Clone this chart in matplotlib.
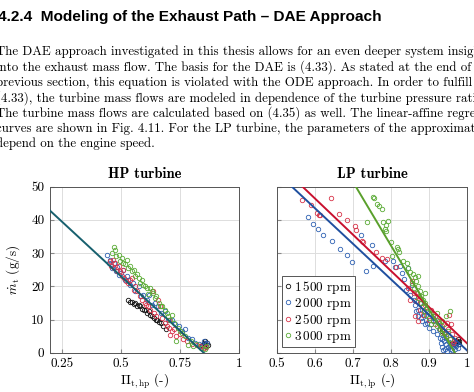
import matplotlib
matplotlib.use("Agg")
import matplotlib.pyplot as plt
import numpy as np

plt.rcParams['font.family'] = 'cmr10'
plt.rcParams['mathtext.fontset'] = 'cm'
plt.rcParams['axes.formatter.use_mathtext'] = True

# page text
heading = "4.2.4  Modeling of the Exhaust Path \u2013 DAE Approach"
body_lines = [
    "The DAE approach investigated in this thesis allows for an even deeper system insight",
    "into the exhaust mass flow. The basis for the DAE is (4.33). As stated at the end of the",
    "previous section, this equation is violated with the ODE approach. In order to fulfill",
    "(4.33), the turbine mass flows are modeled in dependence of the turbine pressure ratio.",
    "The turbine mass flows are calculated based on (4.35) as well. The linear-affine regression",
    "curves are shown in Fig. 4.11. For the LP turbine, the parameters of the approximation",
    "depend on the engine speed.",
]

speeds = ["$1\\,500$ rpm", "$2\\,000$ rpm", "$2\\,500$ rpm", "$3\\,000$ rpm"]
colors = ["#111111", "#2f62b3", "#d8354a", "#5aab35"]
line_colors = ["#111111", "#1f4f9f", "#c8102e", "#5aa02c"]

# HP turbine measurements
hp_x_1500 = [0.532, 0.540, 0.547, 0.555, 0.560, 0.568, 0.575, 0.582, 0.590, 0.597, 0.605, 0.612, 0.618, 0.624,
             0.632, 0.640, 0.648, 0.655, 0.662, 0.670, 0.680, 0.690, 0.845, 0.850, 0.855, 0.858, 0.862, 0.865, 0.868]
hp_y_1500 = [16.0, 15.2, 15.4, 14.8, 15.0, 14.2, 14.5, 14.0, 13.2, 13.0, 12.8, 12.0, 12.5, 11.4,
             11.0, 10.5, 10.0, 9.8, 9.2, 8.8, 8.0, 7.2, 2.2, 3.0, 2.5, 3.4, 2.0, 2.8, 2.4]
hp_x_2000 = [0.441, 0.448, 0.455, 0.462, 0.470, 0.478, 0.485, 0.492, 0.500, 0.511, 0.518, 0.525, 0.532, 0.540,
             0.550, 0.560, 0.575, 0.585, 0.595, 0.610, 0.620, 0.630, 0.645, 0.659, 0.670, 0.685, 0.700, 0.716,
             0.730, 0.744, 0.758, 0.770, 0.786, 0.800, 0.815, 0.830, 0.845, 0.850, 0.855, 0.860, 0.865]
hp_y_2000 = [29.5, 27.0, 28.0, 25.5, 27.0, 24.5, 25.8, 23.5, 24.0, 25.0, 22.0, 23.0, 22.0, 20.5,
             21.0, 18.5, 20.0, 17.0, 17.5, 16.0, 17.5, 14.5, 15.0, 14.0, 12.0, 12.5, 10.0, 10.0,
             8.5, 7.9, 6.5, 7.0, 4.4, 4.0, 3.0, 2.5, 2.0, 3.4, 2.8, 1.6, 3.0]
hp_x_2500 = [0.455, 0.460, 0.465, 0.470, 0.476, 0.485, 0.490, 0.497, 0.505, 0.510, 0.515, 0.520, 0.530, 0.540,
             0.547, 0.555, 0.560, 0.570, 0.580, 0.590, 0.600, 0.605, 0.615, 0.625, 0.638, 0.640, 0.650, 0.659,
             0.666, 0.675, 0.685, 0.695, 0.702, 0.705, 0.709, 0.715, 0.725, 0.735, 0.750, 0.765, 0.780, 0.800,
             0.822, 0.835, 0.850, 0.860]
hp_y_2500 = [27.5, 26.0, 28.0, 25.5, 27.0, 24.5, 26.0, 24.5, 23.0, 25.0, 22.5, 21.5, 21.0, 22.0,
             22.5, 19.0, 20.0, 18.5, 17.0, 16.0, 15.0, 14.5, 14.0, 13.0, 18.5, 12.0, 11.0, 15.9,
             14.0, 10.5, 9.0, 8.0, 9.9, 7.5, 5.4, 6.5, 7.0, 5.0, 5.5, 4.0, 3.5, 2.5,
             2.4, 2.0, 1.5, 1.8]
hp_x_3000 = [0.462, 0.469, 0.476, 0.480, 0.490, 0.495, 0.504, 0.510, 0.518, 0.525, 0.530, 0.540, 0.545, 0.554,
             0.560, 0.568, 0.575, 0.580, 0.589, 0.595, 0.600, 0.610, 0.615, 0.624, 0.630, 0.638, 0.645, 0.650,
             0.660, 0.668, 0.675, 0.685, 0.695, 0.700, 0.709, 0.715, 0.725, 0.733, 0.740, 0.750, 0.760, 0.770,
             0.786, 0.795, 0.805, 0.820, 0.840, 0.855, 0.862]
hp_y_3000 = [30.0, 31.8, 31.0, 29.2, 29.5, 27.5, 28.5, 27.0, 26.8, 28.0, 25.5, 26.2, 24.5, 25.0,
             23.0, 23.8, 22.5, 21.0, 22.0, 20.5, 20.0, 19.5, 17.8, 19.5, 18.5, 18.0, 16.5, 17.0,
             15.0, 14.0, 14.2, 13.0, 12.1, 11.0, 9.9, 11.5, 8.8, 3.6, 7.5, 6.5, 6.0, 5.0,
             2.4, 3.5, 2.0, 2.5, 1.5, 1.2, 2.0]
# HP regression: one line for all speeds (slope, value at pi = 0.2)
hp_slope = -65.8
hp_y_at_02 = 42.8

# LP turbine measurements
lp_x_1500 = [0.933, 0.960, 0.965, 0.968, 0.970, 0.972, 0.975, 0.977, 0.978, 0.980]
lp_y_1500 = [6.4, 3.0, 2.5, 2.2, 3.5, 2.8, 3.2, 4.0, 2.6, 3.5]
lp_x_2000 = [0.581, 0.594, 0.609, 0.620, 0.645, 0.666, 0.684, 0.698, 0.735, 0.721, 0.750, 0.753, 0.784, 0.806,
             0.824, 0.811, 0.828, 0.834, 0.846, 0.840, 0.850, 0.855, 0.860, 0.862, 0.865, 0.870, 0.872, 0.875,
             0.878, 0.880, 0.882, 0.885, 0.888, 0.890, 0.893, 0.895, 0.900, 0.905, 0.910, 0.915, 0.920, 0.925,
             0.930, 0.932, 0.935, 0.938, 0.940, 0.942, 0.945, 0.948, 0.950, 0.952, 0.955, 0.958, 0.960, 0.962,
             0.965, 0.968, 0.970, 0.972, 0.975, 0.945, 0.900, 0.910, 0.940, 0.935, 0.955]
lp_y_2000 = [40.8, 38.8, 37.4, 35.5, 33.7, 31.1, 29.3, 27.4, 24.5, 35.6, 32.4, 26.2, 27.7, 27.7,
             26.2, 25.9, 24.1, 22.1, 25.4, 19.0, 17.5, 20.5, 16.0, 14.5, 12.5, 11.0, 13.0, 15.0,
             10.5, 12.0, 9.5, 14.0, 11.5, 8.5, 10.0, 9.0, 7.5, 8.5, 6.5, 9.5, 5.5, 7.0,
             4.5, 3.0, 1.8, 0.8, 3.5, 1.2, 2.5, 0.6, 1.8, 3.2, 1.0, 2.2, 0.7, 1.6,
             2.8, 1.2, 2.0, 3.0, 1.5, 4.5, 12.0, 10.5, 5.5, 4.0, 2.0]
lp_x_2500 = [0.567, 0.589, 0.604, 0.610, 0.614, 0.641, 0.664, 0.683, 0.705, 0.707, 0.724, 0.727, 0.761, 0.776,
             0.789, 0.813, 0.855, 0.845, 0.850, 0.860, 0.865, 0.870, 0.875, 0.880, 0.885, 0.890, 0.895, 0.900,
             0.905, 0.910, 0.915, 0.920, 0.925, 0.930, 0.935, 0.940, 0.945, 0.950, 0.955, 0.960, 0.965, 0.958,
             0.948, 0.870, 0.862, 0.952, 0.962, 0.968]
lp_y_2500 = [46.0, 44.4, 42.2, 41.4, 41.5, 46.7, 41.7, 40.1, 38.3, 37.1, 33.6, 33.3, 30.4, 28.4,
             28.1, 25.9, 21.7, 19.5, 16.0, 18.0, 15.5, 17.0, 13.0, 15.0, 11.5, 14.5, 12.5, 10.0,
             13.0, 11.0, 8.5, 10.0, 9.0, 7.0, 8.0, 6.0, 5.0, 7.0, 4.0, 5.5, 3.5, 8.5,
             9.0, 9.5, 11.0, 11.5, 3.0, 4.5]
lp_x_3000 = [0.753, 0.756, 0.762, 0.768, 0.775, 0.736, 0.780, 0.793, 0.787, 0.784, 0.787, 0.799, 0.815, 0.819,
             0.822, 0.802, 0.832, 0.841, 0.844, 0.850, 0.857, 0.863, 0.855, 0.860, 0.865, 0.868, 0.870, 0.872,
             0.875, 0.878, 0.880, 0.883, 0.885, 0.888, 0.890, 0.893, 0.895, 0.900, 0.905, 0.910, 0.915, 0.920,
             0.925, 0.930, 0.935, 0.940, 0.945, 0.950, 0.955, 0.935, 0.920, 0.905, 0.890, 0.870, 0.945, 0.955]
lp_y_3000 = [46.8, 46.5, 44.7, 44.2, 43.4, 39.3, 39.5, 39.7, 38.5, 37.4, 36.7, 33.4, 31.9, 31.1,
             30.4, 29.2, 27.7, 26.9, 25.6, 24.4, 23.7, 22.9, 21.0, 19.5, 21.5, 18.0, 20.0, 16.5,
             18.5, 15.0, 17.0, 14.0, 16.0, 12.5, 15.0, 11.5, 13.5, 10.5, 12.0, 9.5, 11.0, 8.0,
             9.5, 7.0, 6.0, 8.5, 5.0, 6.5, 4.0, 9.5, 12.0, 8.5, 18.0, 23.0, 11.0, 12.5]
# LP regressions per speed: (slope, pi where the line crosses zero)
lp_slopes = [-109.0, -107.0, -109.0, -192.0]
lp_zero_pi = [1.01, 1.0065, 1.026, 0.968]

hp_xticks = [0.25, 0.5, 0.75, 1.0]
hp_xticklabels = ["0.25", "0.5", "0.75", "1"]
lp_xticks = [0.5, 0.6, 0.7, 0.8, 0.9, 1.0]
lp_xticklabels = ["0.5", "0.6", "0.7", "0.8", "0.9", "1"]
yticks = [0, 10, 20, 30, 40, 50]

fig = plt.figure(figsize=(4.74, 3.92), dpi=100)

fig.text(-2 / 474, 1 - 17 / 392, heading, family='Liberation Sans', fontweight='bold',
         fontsize=11.1, va='center', ha='left')
for i, line in enumerate(body_lines):
    fig.text(-4 / 474, 1 - (52 + 15.3 * i) / 392, line, fontsize=9.3, va='center', ha='left')

ax1 = fig.add_axes([50 / 474, 39.3 / 392, 189 / 474, 166 / 392])
ax2 = fig.add_axes([277 / 474, 39.3 / 392, 190 / 474, 166 / 392])

hp_sets = [(hp_x_1500, hp_y_1500), (hp_x_2000, hp_y_2000), (hp_x_2500, hp_y_2500), (hp_x_3000, hp_y_3000)]
lp_sets = [(lp_x_1500, lp_y_1500), (lp_x_2000, lp_y_2000), (lp_x_2500, lp_y_2500), (lp_x_3000, lp_y_3000)]

for (xs, ys), c, lab in zip(hp_sets, colors, speeds):
    ax1.plot(xs, ys, 'o', ms=3.2, mfc='none', mec=c, mew=0.6, label=lab, zorder=3)
xx = np.array([0.1, 1.1])
ax1.plot(xx, hp_y_at_02 + hp_slope * (xx - 0.2), color='#17606e', lw=1.4, zorder=4)

for (xs, ys), c, lab in zip(lp_sets, colors, speeds):
    ax2.plot(xs, ys, 'o', ms=3.2, mfc='none', mec=c, mew=0.6, label=lab, zorder=3)
for k in range(1, 4):
    ax2.plot(xx, lp_slopes[k] * (xx - lp_zero_pi[k]), color=line_colors[k], lw=1.4, zorder=4)

for ax in (ax1, ax2):
    ax.set_ylim(0, 50)
    ax.set_yticks(yticks)
    ax.grid(True, color='#dddddd', lw=0.7)
    ax.set_axisbelow(True)
    ax.tick_params(direction='in', length=3, labelsize=9.5, color='#888888', pad=4)
    for s in ax.spines.values():
        s.set_color('#555555')
        s.set_linewidth(0.7)

ax1.set_xlim(0.2, 1.0)
ax1.set_xticks(hp_xticks, hp_xticklabels)
ax1.set_yticklabels([str(v) for v in yticks])
ax1.set_title("HP turbine", family='cmb10', fontsize=10.5, pad=6)
ax1.set_xlabel(r"$\Pi_{\mathrm{t,hp}}$ (-)", fontsize=9.5, labelpad=1)
ax1.set_ylabel(r"$\dot{m}_{\mathrm{t}}$ (g/s)", fontsize=9.5, labelpad=7)

ax2.set_xlim(0.5, 1.0)
ax2.set_xticks(lp_xticks, lp_xticklabels)
ax2.set_yticklabels([])
ax2.set_title("LP turbine", family='cmb10', fontsize=10.5, pad=6)
ax2.set_xlabel(r"$\Pi_{\mathrm{t,lp}}$ (-)", fontsize=9.5, labelpad=1)
leg = ax2.legend(loc='lower left', fontsize=9.5, handlelength=0.4, handletextpad=0.3,
                 borderpad=0.2, labelspacing=0.0, fancybox=False, framealpha=1,
                 edgecolor='#555555', borderaxespad=0.4)
leg.get_frame().set_linewidth(0.7)

fig.savefig("out.png", dpi=100)
